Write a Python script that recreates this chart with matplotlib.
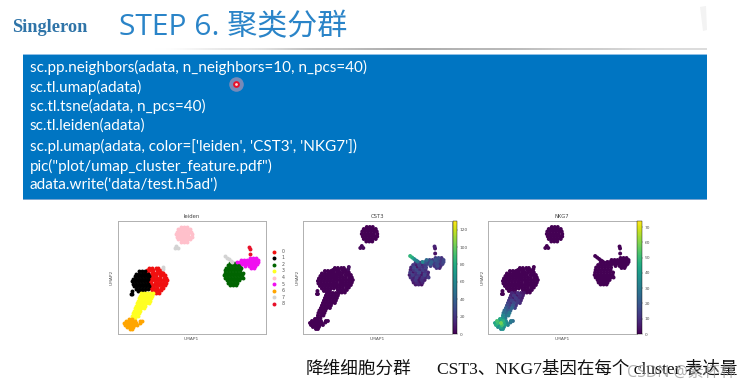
import matplotlib
matplotlib.use('Agg')
import matplotlib.pyplot as plt
import numpy as np

# slide text
title_text = 'STEP 6. 聚类分群'
logo_text = 'Singleron'
code_lines = [
    'sc.pp.neighbors(adata, n_neighbors=10, n_pcs=40)',
    'sc.tl.umap(adata)',
    'sc.tl.tsne(adata, n_pcs=40)',
    'sc.tl.leiden(adata)',
    "sc.pl.umap(adata, color=['leiden', 'CST3', 'NKG7'])",
    'pic("plot/umap_cluster_feature.pdf")',
    "adata.write('data/test.h5ad')",
]
caption_left = '降维细胞分群'
caption_right = 'CST3、NKG7基因在每个 cluster 表达量'
watermark = 'CSDN @素杯林'

# umap points, rows of (y, [x, ...]) per leiden cluster
c0 = [(66, [32, 35, 38.5, 41]), (64, [30, 33, 36, 39.5, 42, 45]),
      (61.5, [28, 31, 34.5, 37, 40, 43, 46]), (59, [30, 33, 36, 39, 42.5, 45, 48]),
      (56.5, [31, 34, 37, 40, 43, 46.5, 49]), (54, [32, 35, 38, 41, 44, 47, 50]),
      (51.5, [31, 34, 37.5, 40, 43, 46, 49]), (49, [33, 36, 39, 42, 45, 48]),
      (46.5, [34, 37, 40, 43.5, 46]), (44, [35, 38, 41, 44]), (41.5, [36, 39, 42])]
c1 = [(63, [22, 25, 28]), (60.5, [19, 22, 25, 28, 31]), (58, [17.5, 20.5, 23.5, 26.5, 29.5, 32]),
      (55.5, [16, 19, 22, 25, 28, 31]), (53, [15, 18, 21, 24, 27, 30]),
      (50.5, [15.5, 18.5, 21.5, 24.5, 27.5, 30.5]), (48, [17, 20, 23, 26, 29, 31.5]),
      (45.5, [19, 22, 25, 28, 31]), (43, [14.5, 21, 24, 27]), (40, [14, 15])]
c2 = [(71.5, [113, 116, 119, 122]), (69, [110.5, 113.5, 116.5, 119.5, 122.5]),
      (66.5, [108.5, 111.5, 114.5, 117.5, 120.5, 123.5]), (64, [108, 111, 114, 117, 120, 123]),
      (61.5, [107.5, 110.5, 113.5, 116.5, 119.5, 122.5, 125.5]),
      (59, [107, 110, 113, 116, 119, 122, 125]), (56.5, [108, 111, 114, 117, 120, 123, 126]),
      (54, [110, 113, 116, 119, 122]), (51.5, [111, 114, 117, 120]), (49.5, [113, 116, 119])]
c3 = [(41, [24, 27, 30, 33, 36]), (38.5, [23, 26, 29, 32, 35]), (36, [22, 25, 28, 31, 34]),
      (33.5, [21, 24, 27, 30, 33]), (31, [20, 23, 26, 29, 32]), (28.5, [19, 22, 25, 28]),
      (26, [18, 21, 24, 27]), (23.5, [16.5, 19.5, 22.5]), (21, [15.5, 18.5, 21.5]),
      (18.5, [15, 18, 20.5]), (16, [14.5, 17.5])]
c4 = [(107, [64, 67, 70]), (105, [61, 64, 67, 70, 73]), (102.5, [59.5, 62.5, 65.5, 68.5, 71.5, 74]),
      (100, [59, 62, 65, 68, 71, 74.5]), (97.5, [60, 63, 66, 69, 72, 74.5]),
      (95, [61, 64, 67, 70, 73]), (92.5, [63.5, 66.5, 69.5])]
c5 = [(76, [133, 136, 139]), (74, [124, 127, 130, 133, 136, 139, 141]),
      (72, [120, 123, 126, 129, 132, 135, 138, 141]), (70, [125, 128, 131, 134, 137, 140]),
      (68, [128, 132, 135, 138]), (66, [134, 137])]
c6 = [(15, [12, 15]), (13, [9, 12, 15, 18, 23, 25]), (11.5, [22.5]), (11, [7, 10, 13, 16, 19]),
      (9, [8, 11, 14, 17, 20]), (7, [10, 13, 16]), (5, [13, 15])]
c7 = [(78, [107.5]), (76.5, [109.5]), (75, [111.5]), (73.5, [113.5]), (72.5, [115]),
      (67, [46]), (65, [45.5]), (88, [59]), (86, [57.5, 60.5])]
c8 = [(87.5, [132]), (85.5, [132.5]), (80.5, [132.6])]
clusters = [c0, c1, c2, c3, c4, c5, c6, c7, c8]
cluster_names = ['0', '1', '2', '3', '4', '5', '6', '7', '8']
cluster_colors = ['#f01010', '#000000', '#006400', '#ffff20', '#ffc0cb',
                  '#f010f0', '#ffa500', '#d3d3d3', '#e8102a']

# expression, same shape as the rows above; clusters not listed stay near zero
cst3_c2 = [[18, 24, 12, 30], [20, 9, 26, 15, 22], [14, 28, 8, 21, 17, 25], [10, 19, 27, 12, 23, 16],
           [22, 7, 18, 29, 11, 20, 14], [9, 24, 15, 20, 6, 26, 13], [17, 11, 23, 8, 19, 14, 21],
           [12, 20, 7, 16, 10], [9, 15, 6, 13], [8, 12, 5]]
cst3_c5 = [[22, 30, 18], [45, 28, 20, 35, 24, 16, 26], [60, 34, 25, 40, 22, 30, 19, 27],
           [26, 38, 20, 28, 17, 23], [24, 18, 30, 15], [20, 14]]
cst3_c7 = [[85], [78], [62], [55], [48], [5], [4], [3], [3, 4]]
cst3_c8 = [[12], [8], [6]]
nkg7_c3 = [[8, 5, 10, 6, 4], [7, 12, 5, 9, 6], [10, 6, 13, 8, 5], [11, 14, 9, 12, 7], [14, 10, 16, 12, 9],
           [17, 13, 20, 11], [21, 16, 24, 14], [26, 20, 23], [28, 24, 30], [34, 27, 31], [36, 30]]
nkg7_c6 = [[44, 38], [52, 40, 47, 36, 30, 26], [28], [42, 50, 58, 44, 34], [46, 38, 52, 41, 33],
           [36, 44, 32], [34, 38]]

cst3_ticks = [0, 20, 40, 60, 80, 100, 120]
nkg7_ticks = [0, 10, 20, 30, 40, 50, 60, 70]


def flatten(rows):
    xs, ys = [], []
    for y, row in rows:
        xs.extend(row)
        ys.extend([y] * len(row))
    return xs, ys


def expr(rows, overrides, idx_map):
    out = []
    for i, c in enumerate(rows):
        if i in idx_map:
            out.extend(sum(idx_map[i], []))
        else:
            out.extend([overrides] * len(flatten(c)[0]))
    return out


def px_axes(fig, left, top, right, bottom):
    return fig.add_axes([left / 749, 1 - bottom / 391, (right - left) / 749, (bottom - top) / 391])


def umap_axes(fig, left, title):
    ax = px_axes(fig, left, 221, left + 148.5, 334)
    ax.set_xlim(0, 149)
    ax.set_ylim(0, 113)
    ax.set_xticks([])
    ax.set_yticks([])
    ax.set_title(title, fontsize=3.8, color='#444444', pad=2.5)
    ax.set_xlabel('UMAP1', fontsize=3.2, color='#555555', labelpad=2.5)
    ax.set_ylabel('UMAP2', fontsize=3.2, color='#555555', labelpad=2.5)
    for s in ax.spines.values():
        s.set_color('#b0b0b0')
        s.set_linewidth(0.7)
    return ax


fig = plt.figure(figsize=(7.49, 3.91), dpi=100)
bg = fig.add_axes([0, 0, 1, 1])
bg.set_xlim(0, 749)
bg.set_ylim(391, 0)
bg.axis('off')

# header line and code box
grad = np.array([[1.0, 0.9, 0.75, 0.68, 0.72, 0.8, 0.86]])
bg.imshow(grad, extent=(113, 707, 50, 48.6), cmap='gray', vmin=0, vmax=1, aspect='auto', zorder=1)
bg.set_xlim(0, 749)
bg.set_ylim(391, 0)
bg.add_patch(plt.Rectangle((23, 55), 684, 144, fc='#0075c2', ec='none', zorder=1))
bg.add_patch(plt.Rectangle((23, 54), 684, 1, fc='#8fbfe6', ec='none', zorder=1))
bg.add_patch(plt.Rectangle((23, 198.5), 684, 1.2, fc='#7aa5d0', ec='none', zorder=1))
bg.fill([700, 706, 707, 703], [7, 6, 30, 31], color='#f3f3f3', lw=0, zorder=1)

bg.text(12, 28, logo_text, fontsize=13.2, family='Liberation Serif', weight='bold',
        color='#2f74a8', va='center', ha='left')
bg.text(119, 28, title_text, fontsize=21.6, family=['Open Sans', 'Noto Sans CJK SC'],
        color='#2a84c8', va='center', ha='left')

line_y = [67, 87, 106, 126, 146, 166, 185]
for y, line in zip(line_y, code_lines):
    bg.text(29.5, y, line, fontsize=11, family='Lato', color='white', va='center', ha='left', zorder=3)

# laser pointer
bg.scatter([236], [84], s=110, color='#f0a0b0', alpha=0.5, lw=0, zorder=4)
bg.scatter([236], [84], s=24, color='#e8102a', lw=0, zorder=5)
bg.scatter([236], [84], s=4, color='#ffd8d8', lw=0, zorder=6)

cap_family = ['Liberation Serif', 'Noto Sans CJK SC']
bg.text(306, 369, caption_left, fontsize=12.7, family=cap_family, color='#111111', va='center', ha='left')
bg.text(437, 369, caption_right, fontsize=12.6, family=cap_family, color='#111111', va='center', ha='left')
bg.text(736, 373, watermark, fontsize=11.5, family=['Open Sans', 'Noto Sans CJK SC'],
        color='#909090', alpha=0.7, va='center', ha='right')

# leiden panel
ax1 = umap_axes(fig, 117.5, 'leiden')
for rows, name, col in zip(clusters, cluster_names, cluster_colors):
    xs, ys = flatten(rows)
    ax1.scatter(xs, ys, s=8, color=col, lw=0, label=name)
leg = ax1.legend(loc='center left', bbox_to_anchor=(1.0, 0.5), frameon=False, fontsize=3.4,
                 labelspacing=0.33, handletextpad=0.55, borderaxespad=0.3, scatterpoints=1,
                 labelcolor='#555555')

# feature panels
all_x, all_y = [], []
for rows in clusters:
    xs, ys = flatten(rows)
    all_x += xs
    all_y += ys

cst3 = np.array(expr(clusters, 0, {2: cst3_c2, 5: cst3_c5, 7: cst3_c7, 8: cst3_c8}))
nkg7 = np.array(expr(clusters, 0, {3: nkg7_c3, 6: nkg7_c6}))

panels = [(303, 'CST3', cst3, 130, cst3_ticks, 452.5, 457),
          (488, 'NKG7', nkg7, 74, nkg7_ticks, 637, 642)]
for left, name, vals, vmax, ticks, cb_l, cb_r in panels:
    ax = umap_axes(fig, left, name)
    order = np.argsort(vals)
    sc = ax.scatter(np.array(all_x)[order], np.array(all_y)[order], c=vals[order], s=8,
                    cmap='viridis', vmin=0, vmax=vmax, lw=0)
    cax = px_axes(fig, cb_l, 221, cb_r, 334)
    cb = fig.colorbar(sc, cax=cax)
    cb.set_ticks(ticks)
    cb.ax.tick_params(labelsize=3.2, length=1, width=0.3, pad=1, colors='#555555')
    cb.outline.set_linewidth(0.3)

fig.savefig('out.png', dpi=100)
